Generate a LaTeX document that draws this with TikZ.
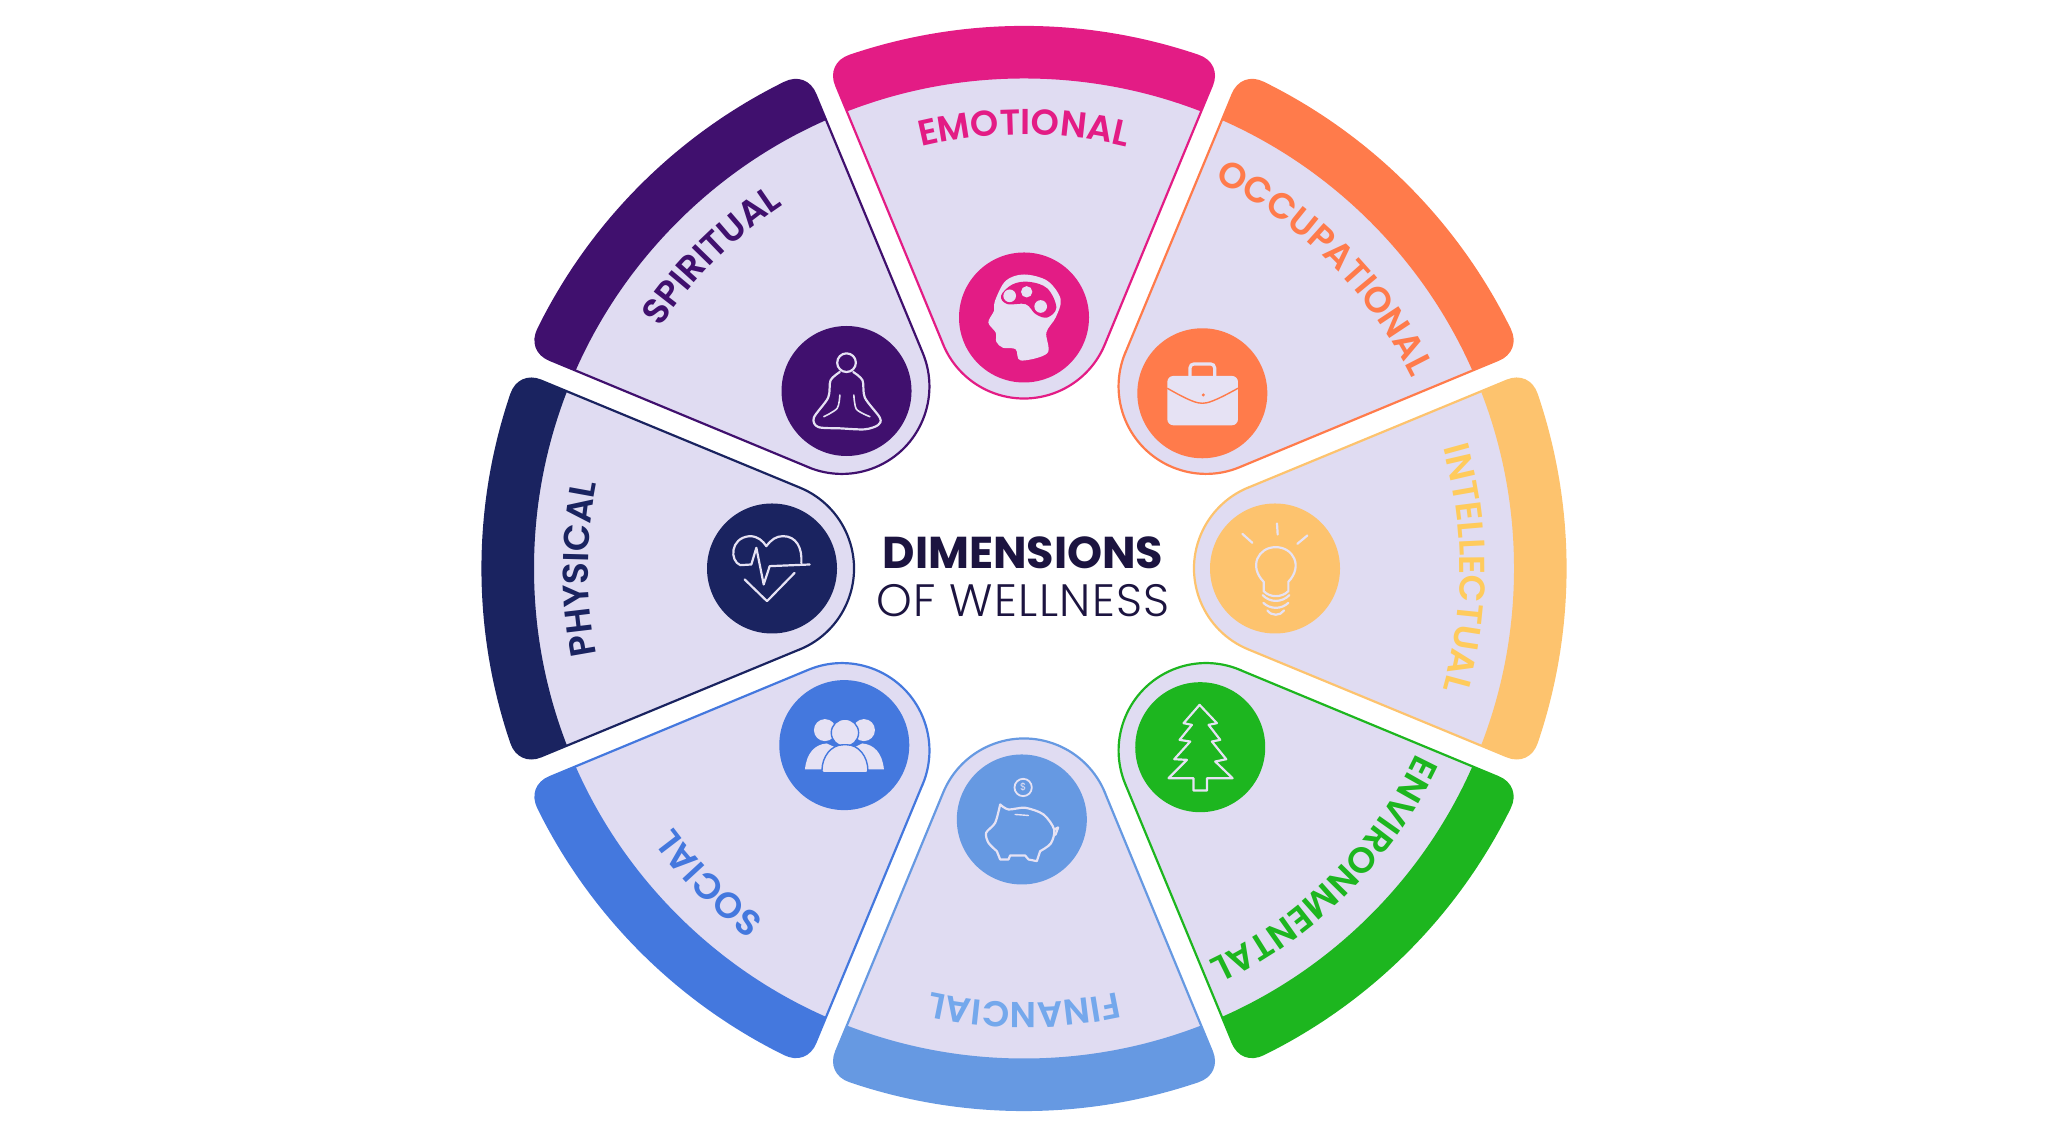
\documentclass[tikz,border=0pt]{standalone}
\usepackage{fontspec}
\usepackage{xcolor}
\usetikzlibrary{decorations.text}
\setmainfont{Poppins}
\newfontfamily\welllight[LetterSpace=3]{Poppins Light}
\newfontfamily\wellsemi{Poppins SemiBold}
\definecolor{wellback}{HTML}{E0DCF2}
\definecolor{iconback}{HTML}{E6E2F4}
\definecolor{titlecol}{HTML}{1C1440}
\definecolor{emotcol}{HTML}{E31C85}
\definecolor{occucol}{HTML}{FF7B4B}
\definecolor{intelcol}{HTML}{FDC36E}
\definecolor{inteltext}{HTML}{FFCB5C}
\definecolor{envcol}{HTML}{1DB61F}
\definecolor{fincol}{HTML}{6699E2}
\definecolor{fintext}{HTML}{74A8EC}
\definecolor{soccol}{HTML}{4478DE}
\definecolor{physcol}{HTML}{1A2360}
\definecolor{spircol}{HTML}{40106E}
\newcommand{\wellshape}{(-80.8,224) -- (-187.8,482.8) .. controls (-193.3,496.1) and (-187.8,508.1) .. (108.76:541.5) arc (108.76:71.24:541.5) .. controls (187.8,508.1) and (193.3,496.1) .. (187.8,482.8) -- (80.8,224) arc (-22.5:-157.5:87.5) -- cycle}
\newcommand{\wellwedge}[5]{
  \begin{scope}[rotate=#1-90]
    \begin{scope}
      \clip \wellshape;
      \fill[wellback] \wellshape;
      \fill[#2,even odd rule] (0,0) circle (490) (0,0) circle (560);
    \end{scope}
    \draw[#2,line width=1.1pt] \wellshape;
    \path[decorate,decoration={text along path,text align={align=center},
      text={|\fontsize{18}{18}\wellsemi\selectfont\color{#4}|#3}}]
      (140:#5) arc (140:40:#5);
  \end{scope}}
\tikzset{wellcirc/.style={circle,minimum size=65pt,inner sep=0pt},
  iconline/.style={draw=iconback,line width=1.1pt,line join=round,line cap=round},
  icon at/.style n args={3}{x=0.16667pt,y=-0.16667pt,shift={(#1)},shift={(-#2,-#3)}}}

\begin{document}
\begin{tikzpicture}[x=0.5pt,y=0.5pt]
  \useasboundingbox (0,0) rectangle (2048,1138);
  \coordinate (hub) at (1024,569.5);

  \begin{scope}[shift={(hub)}]
    \wellwedge{90}{emotcol}{EMOTIONAL}{emotcol}{434}
    \wellwedge{45}{occucol}{OCCUPATIONAL}{occucol}{432}
    \wellwedge{0}{intelcol}{INTELLECTUAL}{inteltext}{436}
    \wellwedge{-45}{envcol}{ENVIRONMENTAL}{envcol}{434}
    \wellwedge{-90}{fincol}{FINANCIAL}{fintext}{434}
    \wellwedge{-135}{soccol}{SOCIAL}{soccol}{436}
    \wellwedge{180}{physcol}{PHYSICAL}{physcol}{436}
    \wellwedge{135}{spircol}{SPIRITUAL}{spircol}{436}

    \node[wellcirc,fill=emotcol] (emotional) at (90:251) {};
    \node[wellcirc,fill=occucol] (occupational) at (44.5:250) {};
    \node[wellcirc,fill=intelcol] (intellectual) at (0:251) {};
    \node[wellcirc,fill=envcol] (environmental) at (-45.4:251) {};
    \node[wellcirc,fill=fincol] (financial) at (-90.5:251) {};
    \node[wellcirc,fill=soccol] (social) at (-135.5:252) {};
    \node[wellcirc,fill=physcol] (physical) at (180:252) {};
    \node[wellcirc,fill=spircol] (spiritual) at (135:251) {};
  \end{scope}

  \node[text=titlecol,font=\fontsize{22.3}{23}\selectfont\bfseries] (title) at (1023,585) {DIMENSIONS};
  \node[text=titlecol,font=\fontsize{22.7}{23}\welllight\selectfont] (subtitle) at (1023,537) {OF WELLNESS};

  % emotional head
  \begin{scope}[icon at={emotional}{675}{955}]
    \fill[iconback] plot[smooth cycle,tension=0.55] coordinates {(588,905) (620,845) (675,826) (745,845) (785,900) (770,955) (742,1000) (745,1062) (665,1084) (650,1050) (612,1046) (592,1028) (590,1000) (568,970) (585,935)};
    \fill[emotcol] plot[smooth cycle,tension=0.6] coordinates {(606,890) (640,856) (690,848) (745,868) (772,925) (745,955) (710,945) (680,915) (625,915)};
    \fill[iconback] (632,890) circle (19) (683,878) circle (17) (725,922) circle (19);
  \end{scope}

  % occupational briefcase
  \begin{scope}[icon at={occupational}{305}{100}]
    \draw[draw=iconback,line width=1.6pt,rounded corners=2pt] (268,50) -- (268,12) -- (342,12) -- (342,50);
    \fill[iconback,rounded corners=3pt] (200,48) rectangle (412,196);
    \draw[occucol,line width=0.7pt] (200,85) .. controls (270,125) and (290,130) .. (305,130) .. controls (320,130) and (340,125) .. (412,85);
    \fill[occucol] (308,105) circle (5);
  \end{scope}

  % intellectual bulb
  \begin{scope}[icon at={intellectual}{525}{632}]
    \draw[iconline] (491,672) .. controls (445,625) and (475,568) .. (527,568) .. controls (580,568) and (610,625) .. (565,672) -- (565,700) .. controls (545,720) and (510,720) .. (491,700) -- cycle;
    \draw[iconline] (488,712) .. controls (510,735) and (545,735) .. (568,712);
    \draw[iconline] (490,735) .. controls (510,755) and (545,755) .. (565,735);
    \draw[iconline] (502,758) .. controls (515,775) and (540,775) .. (552,758);
    \draw[iconline] (531,497) -- (533,530);
    \draw[iconline] (427,528) -- (457,555);
    \draw[iconline] (622,533) -- (592,558);
  \end{scope}

  % environmental tree
  \begin{scope}[icon at={environmental}{300}{1162}]
    \draw[iconline] (298,1035) -- (350,1090) -- (325,1095) -- (360,1140) -- (335,1145) -- (378,1198) -- (345,1205) -- (397,1255) -- (320,1255) -- (320,1292) -- (280,1292) -- (280,1255) -- (205,1255) -- (260,1200) -- (222,1198) -- (270,1145) -- (238,1140) -- (275,1095) -- (250,1090) -- cycle;
  \end{scope}

  % financial piggy bank
  \begin{scope}[icon at={financial}{365}{300}]
    \draw[iconline,line width=0.9pt] (369,204) circle (26);
    \node[text=iconback,font=\fontsize{5}{5}\selectfont,inner sep=0pt] (coin) at (369,204) {\$};
    \draw[iconline] plot[smooth,tension=0.5] coordinates {(300,255) (325,270) (375,265) (430,285) (462,330) (452,372) (420,395)} -- (410,425) -- (385,420) -- (375,408) -- (330,408) -- (325,420) -- (300,420) -- (290,395) -- plot[smooth,tension=0.5] coordinates {(290,395) (265,370) (258,340) (285,310) (300,255)};
    \draw[iconline] (462,330) -- (474,324) -- (466,346);
    \draw[iconline,line width=0.7pt] (345,285) -- (385,288);
  \end{scope}

  % social people
  \begin{scope}[icon at={social}{253}{257}]
    \fill[iconback] (195,212) circle (33) (312,212) circle (33);
    \fill[iconback] (135,330) .. controls (140,280) and (165,255) .. (200,252) -- (240,270) -- (190,330) -- cycle;
    \fill[iconback] (372,330) .. controls (367,280) and (342,255) .. (307,252) -- (270,270) -- (320,330) -- cycle;
    \draw[soccol,fill=iconback,line width=0.7pt] (255,220) circle (41);
    \draw[soccol,fill=iconback,line width=0.7pt,rounded corners=1pt] (186,340) .. controls (186,290) and (215,256) .. (255,256) .. controls (295,256) and (324,290) .. (324,340) -- cycle;
  \end{scope}

  % physical heart
  \begin{scope}[icon at={physical}{877}{622}]
    \draw[iconline] (990,610) -- (870,615) -- (852,670) -- (830,560) -- (815,610) -- (782,612) .. controls (750,600) and (750,530) .. (810,525) .. controls (835,525) and (850,540) .. (860,555) .. controls (875,535) and (890,525) .. (910,525) .. controls (950,525) and (968,560) .. (965,605);
    \draw[iconline] (795,655) -- (862,720) -- (945,635);
  \end{scope}

  % spiritual figure
  \begin{scope}[icon at={spiritual}{320}{270}]
    \draw[iconline] (320,185) circle (28);
    \draw[iconline] plot[smooth,tension=0.5] coordinates {(300,213) (272,238) (265,290) (222,350) (235,378) (300,382) (375,385) (415,372) (420,350) (375,290) (368,238) (340,213)};
    \draw[iconline,line width=0.8pt] plot[smooth,tension=0.5] coordinates {(300,282) (292,322) (252,347)};
    \draw[iconline,line width=0.8pt] plot[smooth,tension=0.5] coordinates {(342,282) (350,325) (390,347)};
  \end{scope}
\end{tikzpicture}
\end{document}
